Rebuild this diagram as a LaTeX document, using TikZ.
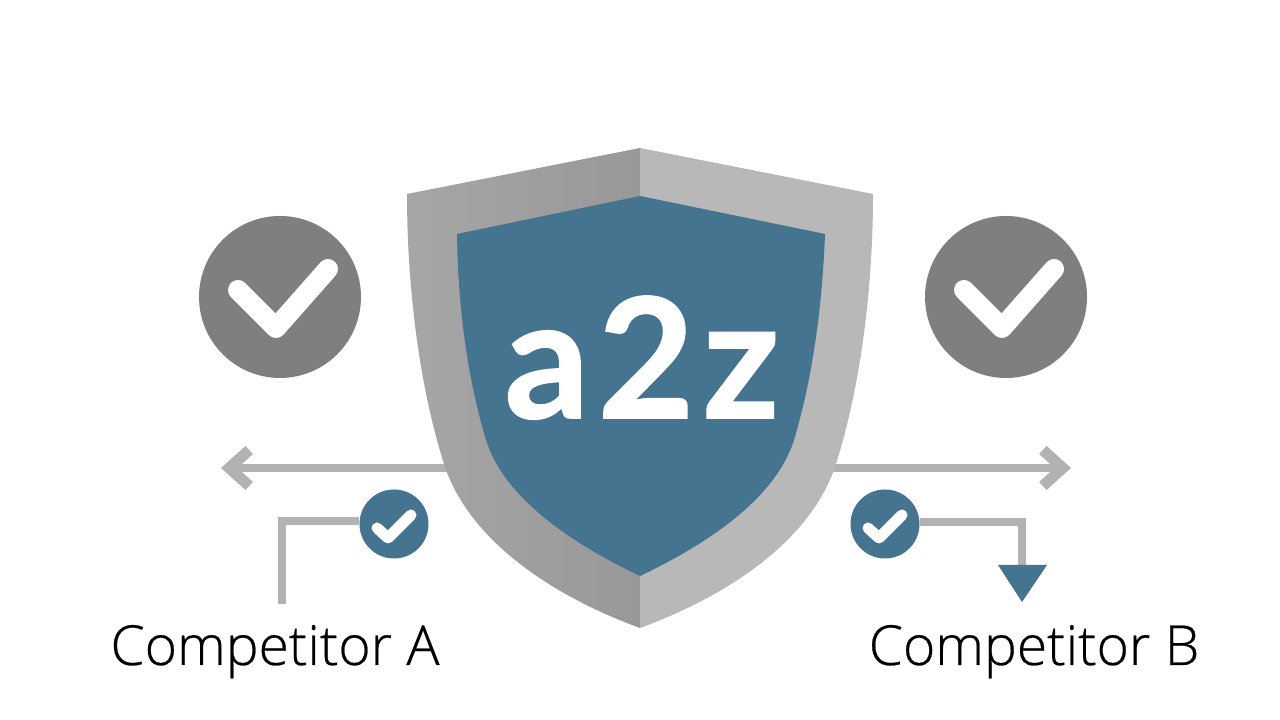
\documentclass[tikz,border=0pt]{standalone}
\usepackage{fontspec}
\setmainfont[UprightFont=* Light, FakeBold=0.4]{Open Sans}
\newfontfamily\logofont[LetterSpace=5, BoldFeatures={FakeBold=1}]{Lato}
\usepackage{xcolor}
\definecolor{shieldblue}{RGB}{68,116,143}
\definecolor{shielddark}{RGB}{152,152,152}
\definecolor{shieldmid}{RGB}{166,166,166}
\definecolor{shieldlight}{RGB}{184,184,184}
\definecolor{wiregray}{RGB}{178,178,178}
\definecolor{badgegray}{RGB}{127,127,127}
\usetikzlibrary{arrows.meta}
\tikzset{
    wire/.style={color=wiregray, line width=0.08cm},
    barb/.style={-{Straight Barb[length=0.2cm, width=0.36cm, line width=0.11cm]}},
    bigbadge/.style={circle, fill=badgegray, minimum size=1.62cm, inner sep=0pt},
    smallbadge/.style={circle, fill=shieldblue, minimum size=0.69cm, inner sep=0pt},
    bigtick/.style={color=white, line width=0.2cm, line cap=round, line join=round},
    smalltick/.style={color=white, line width=0.11cm, line cap=round, line join=round},
    label/.style={font=\fontsize{15.7}{18}\selectfont, text=black, inner sep=0pt, anchor=base},
}
\begin{document}
\begin{tikzpicture}
    \useasboundingbox (0, 0) rectangle (12.8, 7.2);
    \fill[white] (0, 0) rectangle (12.8, 7.2);
    \coordinate (edgeL) at (4.5, 2.52);
    \coordinate (edgeR) at (8.3, 2.52);
    \coordinate (tipL) at (2.21, 2.52);
    \coordinate (tipR) at (10.71, 2.52);
    \draw[wire, barb] (edgeL) -- (tipL);
    \draw[wire, barb] (edgeR) -- (tipR);
    % shield
    \shade[left color=shieldmid, right color=shielddark] (6.40, 5.72) -- (4.07, 5.26) .. controls (4.07, 4.3) and (4.2, 3.3) .. (4.45, 2.53)
        .. controls (4.7, 1.8) and (5.5, 1.25) .. (6.40, 0.92) -- cycle;
    \fill[shieldlight] (6.40, 5.72) -- (8.73, 5.26) .. controls (8.73, 4.3) and (8.6, 3.3) .. (8.35, 2.53)
        .. controls (8.1, 1.8) and (7.3, 1.25) .. (6.40, 0.92) -- cycle;
    \fill[shieldblue] (6.40, 5.24) -- (4.57, 4.86) .. controls (4.58, 4.1) and (4.68, 3.4) .. (4.86, 2.80)
        .. controls (5.05, 2.2) and (5.75, 1.75) .. (6.40, 1.44)
        .. controls (7.05, 1.75) and (7.75, 2.2) .. (7.94, 2.80)
        .. controls (8.12, 3.4) and (8.22, 4.1) .. (8.25, 4.86) -- cycle;
    \node[text=white, font=\logofont\bfseries\fontsize{47.5}{52}\selectfont, inner sep=0pt, anchor=base] (logo) at (6.42, 3.02) {a2z};
    % round badges with ticks
    \node[bigbadge] (checkA) at (2.80, 4.23) {};
    \node[bigbadge] (checkB) at (10.06, 4.23) {};
    \foreach \n in {checkA, checkB}
        \draw[bigtick] (\n) ++(-0.42, 0.07) -- ++(0.38, -0.38) -- ++(0.52, 0.59);
    \node[smallbadge] (okA) at (3.94, 1.96) {};
    \node[smallbadge] (okB) at (8.85, 1.96) {};
    \foreach \n in {okA, okB}
        \draw[smalltick] (\n) ++(-0.17, -0.04) -- ++(0.11, -0.10) -- ++(0.23, 0.23);
    % competitor lines
    \coordinate (footA) at (2.82, 1.16);
    \coordinate (apexB) at (10.22, 1.18);
    \draw[wire] (okA.west |- 0, 1.99) -| (footA);
    \draw[wire] (okB.east |- 0, 1.98) -| (10.22, 1.5);
    \fill[shieldblue] (9.98, 1.55) -- (10.47, 1.55) -- (apexB) -- cycle;
    \node[label] (compA) at (2.75, 0.55) {Competitor A};
    \node[label] (compB) at (10.34, 0.55) {Competitor B};
\end{tikzpicture}
\end{document}
